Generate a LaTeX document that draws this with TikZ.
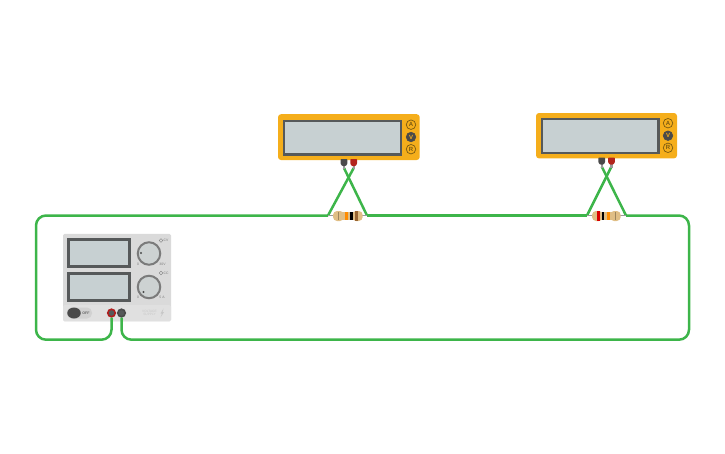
\documentclass[tikz,border=0pt]{standalone}
\usepackage{fontspec}
\usetikzlibrary{shapes.geometric}
\setmainfont{Liberation Sans}
\definecolor{wire}{HTML}{3DB54A}
\definecolor{lead}{HTML}{9A9A9A}
\definecolor{amber}{HTML}{F5AE1B}
\definecolor{screen}{HTML}{C7D0D2}
\definecolor{bezel}{HTML}{56595A}
\definecolor{panel}{HTML}{DADADA}
\definecolor{panelb}{HTML}{E0E0E0}
\definecolor{knob}{HTML}{CDD2D2}
\definecolor{darkkey}{HTML}{4A4A4A}
\definecolor{rbody}{HTML}{E0BE85}
\definecolor{termred}{HTML}{B01E1E}
\definecolor{probered}{HTML}{B3241C}
\definecolor{ink}{HTML}{7B7B7B}
\definecolor{amberink}{HTML}{7A5A12}
\tikzset{
  x=1pt,y=-1pt,
  wirepath/.style={draw=wire,line width=2.5pt,rounded corners=10pt},
  wirestraight/.style={draw=wire,line width=2.5pt},
  meterbody/.style={fill=amber,rounded corners=3pt},
  lcd/.style={fill=screen,draw=bezel,line width=2.4pt},
  psulcd/.style={fill=screen,draw=bezel,line width=2.6pt},
  mbtn/.style={circle,draw=amberink,line width=.7pt,minimum size=9.5pt,inner sep=0pt,text=amberink,font=\fontsize{6}{6}\selectfont\bfseries},
  mbtnon/.style={mbtn,fill=darkkey,draw=darkkey,text=amber},
  knobn/.style={circle,fill=knob,draw=ink,line width=2pt,minimum size=22.5pt,inner sep=0pt},
  tiny/.style={inner sep=0pt,text=ink,font=\fontsize{3.4}{3.6}\selectfont},
  faint/.style={inner sep=0pt,text=black!22,align=center,font=\fontsize{3.2}{3.4}\selectfont},
  termin/.style={circle,line width=1.6pt,minimum size=7.5pt,inner sep=0pt},
  dot/.style={circle,fill=darkkey,minimum size=2.4pt,inner sep=0pt},
  ind/.style={circle,draw=ink,line width=.4pt,fill=panel,minimum size=3.6pt,inner sep=0pt},
}
\begin{document}
\begin{tikzpicture}
\useasboundingbox (0,0) rectangle (725,453);
% ---- power supply
\node[fill=panel,rounded corners=1.5pt,minimum width=108pt,minimum height=87.5pt,inner sep=0pt] (psu) at (117,277.5) {};
\path[fill=panelb,rounded corners=1.5pt] (63,305) rectangle (171,321);
\node[psulcd,minimum width=61pt,minimum height=27pt,inner sep=0pt] (lcdv) at (99,253.2) {};
\node[psulcd,minimum width=61pt,minimum height=27pt,inner sep=0pt] (lcda) at (99,286.7) {};
\node[knobn] (knobv) at (149,253.5) {};
\node[knobn] (knoba) at (149,287) {};
\node[dot] (dotv) at (141,253) {};
\node[dot] (dota) at (143.5,292) {};
\node[tiny] (zv) at (138,264.5) {0};
\node[tiny] (mv) at (162.5,264.5) {30V};
\node[tiny] (za) at (138,297.5) {0};
\node[tiny] (ma) at (162,297.5) {5 A};
\node[ind] (cvi) at (161,240.5) {};
\node[tiny,anchor=west] (cvt) at (163.5,240.5) {CV};
\node[ind] (cci) at (161,273) {};
\node[tiny,anchor=west] (cct) at (163.5,273) {CC};
\node[fill=black!18,rounded corners=5pt,minimum width=25pt,minimum height=11pt,inner sep=0pt] (swbase) at (79.5,313) {};
\node[ellipse,fill=darkkey,minimum width=13.5pt,minimum height=11pt,inner sep=0pt] (swkey) at (74,313) {};
\node[tiny,text=black!60,font=\fontsize{3.6}{4}\selectfont\bfseries] (off) at (86,313.2) {OFF};
\node[faint] (vs) at (149.5,312.5) {VOLTAGE\\[-.2pt]SUPPLY};
\path[fill=black!22] (163.5,308.5) -- (160.5,313.5) -- (162,313.5) -- (160.5,317.5) -- (164,312) -- (162.5,312) -- cycle;
\node[termin,fill=bezel,draw=termred] (tplus) at (111.5,313) {};
\node[termin,fill=bezel,draw=darkkey] (tminus) at (121.5,313) {};
% ---- meter 1
\path[meterbody] (278,114.2) rectangle (419.7,160) ;
\node[lcd,minimum width=116.5pt,minimum height=33.5pt,inner sep=0pt] (lcd1) at (342.5,137.6) {};
\node[mbtn] (a1) at (411,124.7) {A};
\node[mbtnon] (v1) at (411,137) {V};
\node[mbtn] (r1) at (411,149.2) {R};
% ---- meter 2
\path[meterbody] (536,113) rectangle (677,158.4);
\node[lcd,minimum width=116.5pt,minimum height=33.5pt,inner sep=0pt] (lcd2) at (600.3,136) {};
\node[mbtn] (a2) at (668,123.2) {A};
\node[mbtnon] (v2) at (668,135.7) {V};
\node[mbtn] (r2) at (668,147.8) {R};
% ---- probes
\coordinate (p1b) at (344,168);
\coordinate (p1r) at (353.7,168);
\coordinate (p2b) at (601.7,166.5);
\coordinate (p2r) at (611.5,166.5);
\coordinate (r1l) at (328,215.5);
\coordinate (r1r) at (367,215.5);
\coordinate (r2l) at (587,215.5);
\coordinate (r2r) at (626,215.5);
% ---- wires
\path[wirestraight] (p1b) -- (r1r);
\path[wirestraight] (p1r) -- (r1l);
\path[wirestraight] (p2b) -- (r2r);
\path[wirestraight] (p2r) -- (r2l);
\path[wirepath] (r1l) -- (36,215.5) -- (36,339.7) -- (111.5,339.7) -- (tplus.south);
\path[wirepath] (tminus.south) -- (121.5,339.7) -- (689,339.7) -- (689,215.5) -- (r2r);
\path[wirestraight] (r1r) -- (r2l);
% probe heads
\foreach \px/\py/\pc in {344/159/darkkey,353.7/159/probered,601.7/157.5/darkkey,611.5/157.5/probered}{
  \path[fill=lead] (\px-1.2,\py+4) rectangle (\px+1.2,\py+10);
  \path[fill=\pc,rounded corners=.6pt] (\px-3.3,\py) -- (\px+3.3,\py) -- (\px+3.3,\py+5) -- (\px+1.8,\py+7) -- (\px-1.8,\py+7) -- (\px-3.3,\py+5) -- cycle;
}
% ---- resistor 1
\path[draw=lead,line width=1.6pt] (r1l) -- (r1r);
\path[fill=rbody,rounded corners=4pt] (333,211) rectangle (344,221);
\path[fill=rbody,rounded corners=4pt] (352,211) rectangle (362.7,221);
\path[fill=rbody] (340,212.3) rectangle (356,219.7);
\path[fill=orange!90!yellow] (345,212.3) rectangle (348,219.7);
\path[fill=black] (350,212.3) rectangle (353,219.7);
\path[fill=brown!80!black] (355,211.2) rectangle (358,220.8);
\path[fill=rbody!70!black] (338,211.8) rectangle (338.8,220.2);
% ---- resistor 2
\path[draw=lead,line width=1.6pt] (r2l) -- (r2r);
\path[fill=rbody,rounded corners=4pt] (592,211) rectangle (603,221);
\path[fill=rbody,rounded corners=4pt] (610,211) rectangle (620.7,221);
\path[fill=rbody] (598,212.3) rectangle (615,219.7);
\path[fill=red!85!black] (596.7,211.2) rectangle (600,220.8);
\path[fill=black] (601.7,212.3) rectangle (604,219.7);
\path[fill=orange!90!yellow] (606.7,212.3) rectangle (610,219.7);
\path[fill=rbody!70!black] (615,211.8) rectangle (615.8,220.2);
\end{tikzpicture}
\end{document}
